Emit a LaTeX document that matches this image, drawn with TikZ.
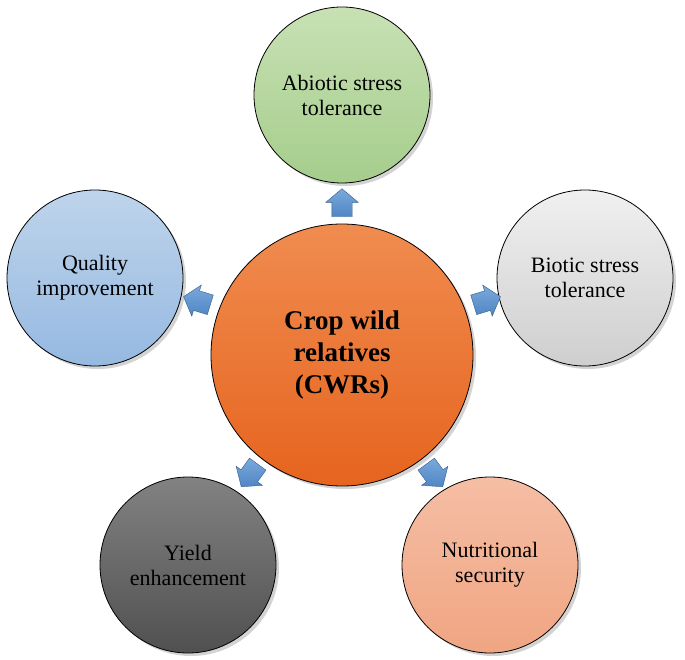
\documentclass[tikz,border=0pt]{standalone}
\usepackage{fontspec}
\setmainfont{Liberation Serif}
\usetikzlibrary{shapes.arrows,shadows}
\definecolor{ac1}{HTML}{7BA9DC}
\definecolor{ac2}{HTML}{4F86C4}
\begin{document}
\begin{tikzpicture}[x=1pt,y=-1pt,
  bub/.style={circle,draw=black,line width=0.8pt,minimum size=176pt,align=center,font=\fontsize{22}{25}\selectfont,drop shadow={opacity=0.35,shadow xshift=3pt,shadow yshift=-3pt}},
  arr/.style={single arrow,draw=ac2!70!black,top color=ac1,bottom color=ac2,minimum height=28pt,inner xsep=0pt,inner ysep=10pt,single arrow head extend=6pt,single arrow tip angle=100}]
\useasboundingbox (0,0) rectangle (685,660);
\node[bub,minimum size=262pt,top color={rgb,255:red,240;green,140;blue,80},bottom color={rgb,255:red,230;green,100;blue,30},font=\fontsize{27}{32}\selectfont\bfseries] (c) at (342,355) {Crop wild\\relatives\\(CWRs)};
\node[bub,top color={rgb,255:red,200;green,225;blue,180},bottom color={rgb,255:red,165;green,205;blue,140}] (t) at (342,95) {Abiotic stress\\tolerance};
\node[bub,top color=gray!12,bottom color=gray!38] (r) at (585,278) {Biotic stress\\tolerance};
\node[bub,top color={rgb,255:red,190;green,212;blue,235},bottom color={rgb,255:red,150;green,185;blue,225}] (l) at (95,278) {Quality\\improvement};
\node[bub,top color={rgb,255:red,130;green,130;blue,130},bottom color={rgb,255:red,80;green,80;blue,80}] (bl) at (188,565) {Yield\\enhancement};
\node[bub,top color={rgb,255:red,245;green,190;blue,165},bottom color={rgb,255:red,240;green,165;blue,130}] (br) at (490,565) {Nutritional\\security};
\node[arr,rotate=90] (a1) at (342,207) {};
\node[arr,rotate=17] (a2) at (483,302) {};
\node[arr,rotate=163] (a3) at (201,302) {};
\node[arr,rotate=-126] (a4) at (252,472) {};
\node[arr,rotate=-54] (a5) at (432,472) {};
\end{tikzpicture}
\end{document}
